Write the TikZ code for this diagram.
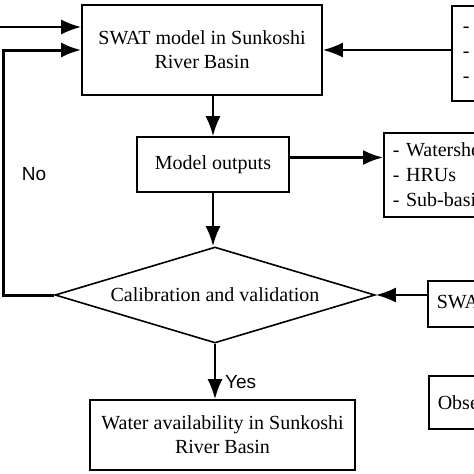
\documentclass[tikz,border=0pt]{standalone}
\usepackage{fontspec}
\setmainfont{Liberation Serif}
\newfontfamily\labelfont{Liberation Sans}
\usetikzlibrary{arrows.meta,shapes.geometric}
\tikzset{
  box/.style={draw, line width=1.6pt, inner sep=0pt, align=center, font=\fontsize{20}{24}\selectfont},
  listbox/.style={draw, line width=1.6pt, inner ysep=0pt, align=left, font=\fontsize{20}{25}\selectfont},
  decision/.style={draw, shape=diamond, line width=1.6pt, inner sep=0pt, aspect=3.33, minimum width=320pt, minimum height=96pt, font=\fontsize{20}{24}\selectfont},
  arr/.style={line width=2.3pt, -{Latex[length=20pt,width=15pt]}},
  fbarr/.style={line width=3pt, -{Latex[length=20pt,width=15pt]}},
  lbl/.style={font=\labelfont\fontsize{19}{22}\selectfont, inner sep=0pt}
}
\begin{document}
\begin{tikzpicture}[x=1pt,y=-1pt]
\useasboundingbox (0,0) rectangle (474,474);
\clip (0,0) rectangle (474,474);
\fill[white] (0,0) rectangle (474,474);
% main flow
\node[box, minimum width=240pt, minimum height=90pt] (swat) at (202,50) {SWAT model in Sunkoshi\\River Basin};
\node[box, minimum width=152pt, minimum height=55pt] (mo) at (213,164.5) {Model outputs};
\node[decision] (cal) at (215,295) {Calibration and validation};
\node[box, minimum width=265pt, minimum height=70pt] (water) at (222.5,435) {Water availability in Sunkoshi\\River Basin};
% side boxes
\node[listbox, anchor=north west, minimum height=95pt, text width=150pt, inner xsep=11pt] (inputs) at (451,5) {- DEM\\- Soil map\\- Land use map};
\node[listbox, anchor=north west, minimum height=84pt, text width=150pt, inner xsep=9pt] (ws) at (383,132) {- Watershed\\- HRUs\\- Sub-basins};
\node[listbox, anchor=north west, minimum height=46pt, text width=150pt, inner xsep=9pt] (swat2) at (427,280) {SWAT output};
\node[listbox, anchor=north west, minimum height=53pt, text width=150pt, inner xsep=9pt] (obs) at (428,375) {Observed data};
% labels
\node[lbl] (no) at (34,174) {No};
\node[lbl, anchor=west] (yes) at (225,382) {Yes};
% connectors
\coordinate (in0) at (0,27);
\coordinate (fb) at (3,0);
\draw[arr] (in0) -- (in0 -| swat.west);
\draw[arr] (inputs.west |- swat.east) -- (swat.east);
\draw[arr] (mo.north |- swat.south) -- (mo.north);
\draw[arr] (mo.east) ++(0,-7) coordinate (m1) -- (m1 -| ws.west);
\draw[arr] (mo.south) -- (mo.south |- cal.north);
\draw[arr] (swat2.west |- cal.east) -- (cal.east);
\draw[arr] (cal.south) -- (cal.south |- water.north);
\draw[fbarr] (cal.west) -- (cal.west -| fb) |- (swat.west);
\end{tikzpicture}
\end{document}
